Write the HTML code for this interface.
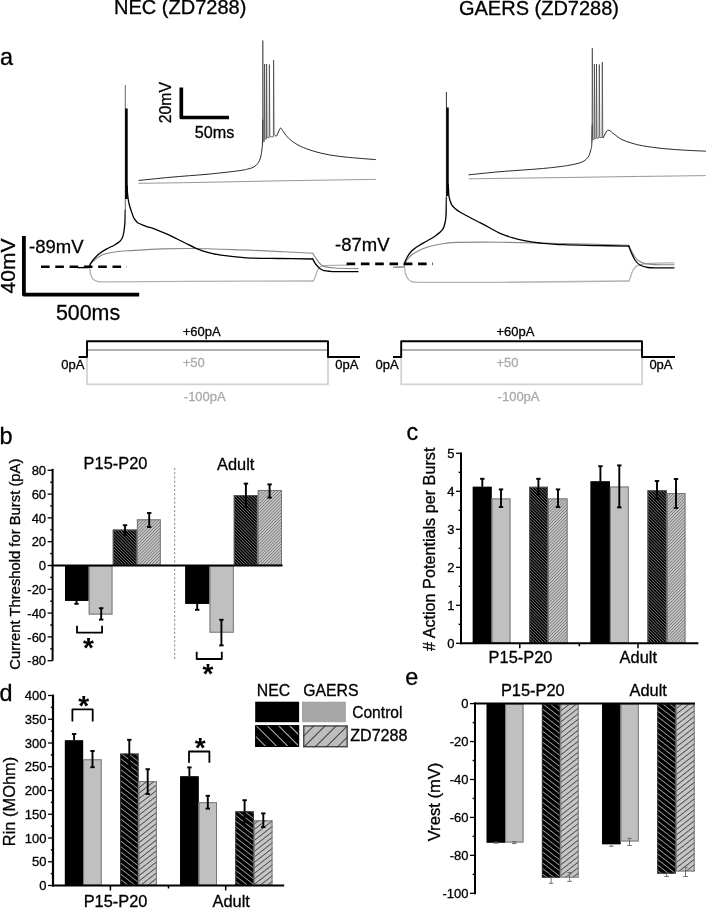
<!DOCTYPE html>
<html><head><meta charset="utf-8"><title>Figure</title>
<style>html,body{margin:0;padding:0;background:#fff}svg{display:block}text{font-family:"Liberation Sans",sans-serif}</style>
</head><body>
<svg width="706" height="909" viewBox="0 0 706 909">
<defs>
<pattern id="hbf" width="2.2" height="2.2" patternUnits="userSpaceOnUse" patternTransform="rotate(-45)"><rect width="2.2" height="2.2" fill="#000"/><rect width="0.55" height="2.2" fill="#a0a0a0"/></pattern>
<pattern id="hgf" width="2.2" height="2.2" patternUnits="userSpaceOnUse" patternTransform="rotate(45)"><rect width="2.2" height="2.2" fill="#cfcfcf"/><rect width="0.9" height="2.2" fill="#777"/></pattern>
<pattern id="hbm" width="4.33" height="4.33" patternUnits="userSpaceOnUse" patternTransform="rotate(-52)"><rect width="4.33" height="4.33" fill="#000"/><rect width="0.7" height="4.33" fill="#c4c4c4"/></pattern>
<pattern id="hgm" width="4.33" height="4.33" patternUnits="userSpaceOnUse" patternTransform="rotate(52)"><rect width="4.33" height="4.33" fill="#c6c6c6"/><rect width="0.9" height="4.33" fill="#4a4a4a"/></pattern>
<pattern id="hbc" width="4.33" height="4.33" patternUnits="userSpaceOnUse" patternTransform="rotate(-52)"><rect width="4.33" height="4.33" fill="#000"/><rect width="0.7" height="4.33" fill="#c4c4c4"/></pattern>
<pattern id="hgc" width="4.33" height="4.33" patternUnits="userSpaceOnUse" patternTransform="rotate(52)"><rect width="4.33" height="4.33" fill="#c6c6c6"/><rect width="0.9" height="4.33" fill="#4a4a4a"/></pattern>
<pattern id="hbl" x="-0.7" width="7.9" height="7.9" patternUnits="userSpaceOnUse" patternTransform="rotate(-45)"><rect width="7.9" height="7.9" fill="#000"/><rect width="0.8" height="7.9" fill="#e8e8e8"/></pattern>
<pattern id="hgl" x="0" width="7.9" height="7.9" patternUnits="userSpaceOnUse" patternTransform="rotate(45)"><rect width="7.9" height="7.9" fill="#bdbdbd"/><rect width="0.9" height="7.9" fill="#333"/></pattern>
</defs>
<rect width="706" height="909" fill="#fff"/>
<text x="180.2" y="14.3" font-size="20" text-anchor="middle" fill="#000" stroke="#000" stroke-width="0.3" >NEC (ZD7288)</text>
<text x="539" y="14.8" font-size="20" text-anchor="middle" fill="#000" stroke="#000" stroke-width="0.3" >GAERS (ZD7288)</text>
<text x="0" y="65.4" font-size="23.4" text-anchor="start" fill="#000" stroke="#000" stroke-width="0.3" >a</text>
<text x="-0.4" y="444" font-size="23.4" text-anchor="start" fill="#000" stroke="#000" stroke-width="0.3" >b</text>
<text x="406.6" y="439.7" font-size="23.4" text-anchor="start" fill="#000" stroke="#000" stroke-width="0.3" >c</text>
<text x="-0.45" y="701.3" font-size="23.4" text-anchor="start" fill="#000" stroke="#000" stroke-width="0.3" >d</text>
<text x="405.2" y="685.4" font-size="23.4" text-anchor="start" fill="#000" stroke="#000" stroke-width="0.3" >e</text>
<polyline points="181.3,87.5 181.3,117.5 229.0,117.5" fill="none" stroke="#000" stroke-width="3.7" stroke-linejoin="round" stroke-linejoin="miter"/>
<text transform="translate(170.6 102.6) rotate(-90)" font-size="15.8" text-anchor="middle" fill="#000" stroke="#000" stroke-width="0.3">20mV</text>
<text x="214.5" y="138" font-size="16.2" text-anchor="middle" fill="#000" stroke="#000" stroke-width="0.3" >50ms</text>
<path d="M77.6,267.5 C79.5,267.5 86.9,266.7 89.0,267.6 C91.1,268.5 89.7,271.2 90.3,273.0 C90.9,274.8 91.4,277.1 92.5,278.5 C93.6,279.9 93.8,280.6 96.7,281.2 C99.6,281.8 94.8,281.8 110.0,281.8 C125.2,281.8 154.1,281.4 188.0,281.3 C221.9,281.2 292.4,281.1 313.3,281.0" fill="none" stroke="#b2b2b2" stroke-width="1.3" stroke-linejoin="round" stroke-linecap="round"/>
<path d="M313.3,281.0 C313.5,280.6 313.8,280.4 314.6,278.5 C315.4,276.6 317.0,271.4 318.0,269.5 C319.0,267.6 319.6,267.4 320.5,266.8 C321.4,266.2 321.1,265.9 323.5,265.6 C325.9,265.4 331.1,265.4 335.0,265.3 C338.9,265.2 345.0,265.2 347.0,265.2" fill="none" stroke="#b2b2b2" stroke-width="1.3" stroke-linejoin="round" stroke-linecap="round"/>
<path d="M77.6,267.5 C79.5,267.5 86.8,268.0 89.0,267.3 C91.2,266.6 89.9,264.9 91.0,263.5 C92.1,262.1 93.8,260.5 95.8,259.0 C97.8,257.5 99.7,255.7 103.1,254.5 C106.5,253.3 110.8,252.4 116.0,251.7 C121.2,251.0 126.8,250.9 134.5,250.4 C142.2,249.9 152.8,249.2 162.0,248.9 C171.2,248.6 178.1,248.4 190.0,248.5 C201.9,248.6 218.7,249.1 233.7,249.6 C248.7,250.1 266.8,251.0 280.0,251.6 C293.2,252.2 307.3,253.0 312.8,253.3" fill="none" stroke="#888" stroke-width="1.1" stroke-linejoin="round" stroke-linecap="round"/>
<path d="M312.8,253.3 C313.2,254.0 314.4,255.9 315.5,257.5 C316.6,259.1 318.1,261.5 319.5,263.0 C320.9,264.5 321.4,265.6 324.0,266.4 C326.6,267.2 329.3,267.6 335.0,268.0 C340.7,268.4 354.2,268.5 358.0,268.6" fill="none" stroke="#888" stroke-width="1.1" stroke-linejoin="round" stroke-linecap="round"/>
<path d="M77.6,267.6 C79.4,267.6 86.4,267.8 88.5,267.3 C90.6,266.8 89.1,265.9 90.0,264.5 C90.9,263.1 92.3,260.8 93.9,259.0 C95.5,257.2 97.3,255.2 99.5,253.5 C101.7,251.8 104.3,250.3 106.8,248.9 C109.2,247.5 112.0,246.4 114.2,245.2 C116.4,244.0 118.4,242.8 119.7,241.6 C121.0,240.4 121.6,239.3 122.2,238.0 C122.8,236.7 123.2,235.8 123.6,233.5 C124.0,231.2 124.5,227.9 124.8,224.0 C125.1,220.1 125.2,212.3 125.3,210.0" fill="none" stroke="#000" stroke-width="1.3" stroke-linejoin="round" stroke-linecap="round"/>
<polyline points="125.3,222.0 125.3,85.0" fill="none" stroke="#666" stroke-width="1.0" stroke-linejoin="round" />
<polyline points="126.4,199.0 126.4,108.5" fill="none" stroke="#000" stroke-width="2.6" stroke-linejoin="round" />
<path d="M127.1,186.0 C127.2,187.3 127.4,191.7 127.6,194.0 C127.8,196.3 128.0,198.1 128.3,200.0 C128.6,201.9 129.1,203.9 129.5,205.5 C129.9,207.1 130.1,207.5 130.8,209.5 C131.5,211.5 132.6,215.3 133.5,217.3 C134.4,219.3 135.5,220.4 136.3,221.3 C137.1,222.2 136.9,222.3 138.1,223.0 C139.3,223.7 142.2,224.8 143.7,225.4 C145.2,226.0 145.8,226.3 147.3,226.8 C148.8,227.3 151.1,227.7 152.9,228.3 C154.8,228.9 155.7,229.4 158.4,230.5 C161.2,231.6 165.1,233.1 169.4,235.1 C173.7,237.1 179.9,240.4 184.2,242.5 C188.5,244.6 191.5,246.3 195.0,247.8 C198.5,249.3 200.7,250.4 205.0,251.6 C209.3,252.8 214.1,254.2 221.0,255.2 C227.9,256.2 236.7,257.2 246.5,257.8 C256.3,258.4 268.9,258.3 280.0,258.5 C291.1,258.7 307.3,258.9 312.8,259.0" fill="none" stroke="#000" stroke-width="1.3" stroke-linejoin="round" stroke-linecap="round"/>
<path d="M312.8,259.0 C313.2,259.7 314.1,261.8 315.0,263.2 C315.9,264.6 317.6,266.3 318.5,267.3 C319.4,268.3 319.7,268.4 320.6,269.0 C321.5,269.6 322.4,270.2 324.0,270.6 C325.6,271.0 327.3,271.1 330.0,271.3 C332.7,271.5 335.3,271.5 340.0,271.6 C344.7,271.7 355.0,271.7 358.0,271.7" fill="none" stroke="#000" stroke-width="1.3" stroke-linejoin="round" stroke-linecap="round"/>
<line x1="41" y1="266.8" x2="127" y2="266.8" stroke="#000" stroke-width="2.6" stroke-dasharray="8.6 5.7"/>
<text x="29" y="253" font-size="18.5" text-anchor="start" fill="#000" stroke="#000" stroke-width="0.3" >-89mV</text>
<polyline points="23.9,236.0 23.9,294.6 139.2,294.6" fill="none" stroke="#000" stroke-width="3.8" stroke-linejoin="round" stroke-linejoin="miter"/>
<text transform="translate(15 266) rotate(-90)" font-size="21" text-anchor="middle" fill="#000" stroke="#000" stroke-width="0.3">40mV</text>
<text x="88.0" y="320.3" font-size="21.4" text-anchor="middle" fill="#000" stroke="#000" stroke-width="0.3" >500ms</text>
<path d="M139.0,183.3 C149.2,183.2 179.8,182.8 200.0,182.4 C220.2,182.1 240.0,181.6 260.0,181.2 C280.0,180.8 300.8,180.5 320.0,180.2 C339.2,179.9 366.2,179.5 375.5,179.4" fill="none" stroke="#8a8a8a" stroke-width="0.9" stroke-linejoin="round" stroke-linecap="round"/>
<path d="M139.0,180.4 C144.2,179.9 158.3,178.4 170.0,177.3 C181.7,176.2 197.5,175.2 209.0,174.1 C220.5,173.0 232.3,171.6 239.0,170.7 C245.7,169.8 246.5,169.3 249.0,168.7 C251.5,168.1 252.6,167.7 254.0,166.9 C255.4,166.1 256.6,164.9 257.5,163.8 C258.4,162.7 258.9,161.8 259.5,160.4 C260.1,159.0 260.6,157.4 261.0,155.5 C261.4,153.6 261.7,151.6 262.0,149.0 C262.3,146.4 262.5,144.8 262.6,140.0 C262.7,135.2 262.8,123.3 262.8,120.0" fill="none" stroke="#111" stroke-width="0.9" stroke-linejoin="round" stroke-linecap="round"/>
<polyline points="262.6,145.0 262.8,40.5 263.3,141.5 264.4,141.5 264.6,64.0 265.1,139.0 266.4,139.0 266.6,64.0 267.1,137.5 269.1,137.5 269.4,64.5 269.9,136.8 273.4,136.8 273.6,60.0 274.1,134.0 275.2,135.6" fill="none" stroke="#3a3a3a" stroke-width="0.7" stroke-linejoin="round" stroke-linejoin="miter"/>
<path d="M275.2,135.6 C275.4,135.7 276.0,136.4 276.5,136.0 C277.0,135.6 277.5,134.1 278.0,133.0 C278.5,131.9 279.2,130.1 279.6,129.3 C280.1,128.5 280.3,128.0 280.7,128.0 C281.1,128.0 281.3,128.5 282.0,129.5 C282.7,130.5 283.7,132.3 285.0,134.0 C286.3,135.7 287.8,137.7 290.0,139.5 C292.2,141.3 294.7,143.2 298.0,145.0 C301.3,146.8 305.5,148.5 310.0,150.0 C314.5,151.5 319.2,152.8 325.0,154.0 C330.8,155.2 336.6,156.1 345.0,157.0 C353.4,157.9 370.4,159.2 375.5,159.6" fill="none" stroke="#111" stroke-width="0.9" stroke-linejoin="round" stroke-linecap="round"/>
<polyline points="87.0,357.0 87.0,384.3 328.0,384.3 328.0,357.0" fill="none" stroke="#d2d2d2" stroke-width="1.8" stroke-linejoin="round" stroke-linejoin="miter"/>
<polyline points="87.0,357.0 87.0,350.0 328.0,350.0 328.0,357.0" fill="none" stroke="#999" stroke-width="1.6" stroke-linejoin="round" stroke-linejoin="miter"/>
<polyline points="78.6,357.0 87.0,357.0 87.0,341.2 328.0,341.2 328.0,357.0 360.0,357.0" fill="none" stroke="#000" stroke-width="1.9" stroke-linejoin="round" stroke-linejoin="miter"/>
<text x="182.7" y="336.4" font-size="13" text-anchor="start" fill="#000" stroke="#000" stroke-width="0.3" >+60pA</text>
<text x="182.7" y="366.8" font-size="13" text-anchor="start" fill="#aaa" stroke="#aaa" stroke-width="0.3" >+50</text>
<text x="183.8" y="401" font-size="13" text-anchor="start" fill="#aaa" stroke="#aaa" stroke-width="0.3" >-100pA</text>
<text x="61.3" y="369" font-size="13" text-anchor="start" fill="#000" stroke="#000" stroke-width="0.3" >0pA</text>
<text x="335.3" y="369" font-size="13" text-anchor="start" fill="#000" stroke="#000" stroke-width="0.3" >0pA</text>
<path d="M393.7,267.2 C395.4,267.2 402.1,266.1 404.0,267.0 C405.9,267.9 404.6,271.0 405.2,272.8 C405.8,274.6 406.4,276.6 407.5,278.0 C408.6,279.4 408.7,280.8 411.6,281.5 C414.5,282.2 410.3,282.3 425.0,282.4 C439.7,282.5 466.0,282.5 500.0,282.3 C534.0,282.1 607.3,281.2 628.8,281.0" fill="none" stroke="#b2b2b2" stroke-width="1.3" stroke-linejoin="round" stroke-linecap="round"/>
<path d="M628.8,281.0 C629.1,280.3 629.9,278.7 630.5,277.0 C631.1,275.3 631.8,272.7 632.6,271.0 C633.4,269.3 634.4,268.0 635.5,267.0 C636.6,266.0 636.6,265.6 639.0,265.0 C641.4,264.4 644.2,263.8 650.0,263.4 C655.8,263.0 670.0,262.9 674.0,262.8" fill="none" stroke="#b2b2b2" stroke-width="1.3" stroke-linejoin="round" stroke-linecap="round"/>
<path d="M393.7,267.2 C395.4,267.2 401.8,267.4 403.6,267.0 C405.4,266.6 404.0,265.7 404.6,264.5 C405.2,263.3 405.8,261.6 407.0,260.0 C408.2,258.4 409.6,256.6 411.6,255.0 C413.6,253.4 416.4,251.8 419.0,250.5 C421.6,249.2 424.2,248.2 427.0,247.3 C429.8,246.4 433.1,245.6 436.0,245.0 C438.9,244.4 441.1,243.9 444.7,243.5 C448.3,243.1 448.3,242.6 457.5,242.4 C466.7,242.2 482.9,242.0 500.0,242.2 C517.1,242.4 538.5,243.0 560.0,243.5 C581.5,244.0 617.3,244.9 628.8,245.2" fill="none" stroke="#888" stroke-width="1.1" stroke-linejoin="round" stroke-linecap="round"/>
<path d="M628.8,245.2 C629.2,246.0 630.0,248.0 631.0,250.0 C632.0,252.0 633.7,255.2 635.0,257.0 C636.3,258.8 637.3,259.9 639.0,261.0 C640.7,262.1 642.3,263.0 645.0,263.6 C647.7,264.2 650.2,264.4 655.0,264.6 C659.8,264.8 670.8,264.8 674.0,264.8" fill="none" stroke="#888" stroke-width="1.1" stroke-linejoin="round" stroke-linecap="round"/>
<path d="M404.0,264.5 C404.5,263.3 405.7,259.8 407.0,257.5 C408.3,255.2 409.6,253.0 411.6,251.0 C413.6,249.0 416.4,247.2 419.0,245.5 C421.6,243.8 424.3,242.6 427.0,241.0 C429.7,239.4 432.4,238.1 435.0,236.2 C437.6,234.3 440.9,232.0 442.6,229.4 C444.4,226.8 444.9,223.6 445.5,220.4 C446.1,217.2 446.1,213.7 446.2,210.0 C446.3,206.3 446.4,200.0 446.4,198.0" fill="none" stroke="#000" stroke-width="1.3" stroke-linejoin="round" stroke-linecap="round"/>
<polyline points="446.4,215.0 446.4,92.0" fill="none" stroke="#333" stroke-width="1.0" stroke-linejoin="round" />
<polyline points="447.6,196.0 447.6,107.5" fill="none" stroke="#000" stroke-width="2.3" stroke-linejoin="round" />
<path d="M448.3,185.0 C448.4,186.8 448.6,193.0 448.9,195.6 C449.2,198.2 449.6,199.0 450.0,200.5 C450.4,202.0 450.8,203.2 451.6,204.6 C452.4,205.9 453.5,207.3 455.0,208.6 C456.5,209.9 458.1,211.0 460.6,212.5 C463.1,214.0 466.8,215.8 470.0,217.5 C473.2,219.2 476.7,220.9 480.0,222.7 C483.3,224.4 486.7,226.2 490.0,228.0 C493.3,229.8 496.3,231.7 500.0,233.3 C503.7,234.9 507.8,236.3 512.0,237.6 C516.2,238.9 520.8,240.0 525.5,240.9 C530.2,241.8 533.6,242.4 540.0,243.0 C546.4,243.6 553.7,244.3 563.7,244.7 C573.7,245.1 589.1,245.3 600.0,245.6 C610.9,245.8 624.0,246.1 628.8,246.2" fill="none" stroke="#000" stroke-width="1.3" stroke-linejoin="round" stroke-linecap="round"/>
<path d="M628.8,246.2 C629.2,247.2 630.0,249.7 631.0,252.0 C632.0,254.3 633.5,257.8 635.0,260.0 C636.5,262.2 637.9,263.8 640.0,265.0 C642.1,266.2 644.6,267.0 647.9,267.5 C651.2,268.0 655.6,267.8 660.0,267.8 C664.4,267.9 671.7,267.8 674.0,267.8" fill="none" stroke="#000" stroke-width="1.3" stroke-linejoin="round" stroke-linecap="round"/>
<line x1="346.6" y1="263.8" x2="433" y2="263.8" stroke="#000" stroke-width="2.7" stroke-dasharray="8.6 5.7"/>
<text x="335" y="251" font-size="18.5" text-anchor="start" fill="#000" stroke="#000" stroke-width="0.3" >-87mV</text>
<path d="M469.0,178.8 C479.2,178.7 508.2,178.3 530.0,178.0 C551.8,177.7 580.0,177.3 600.0,177.0 C620.0,176.7 632.3,176.5 650.0,176.3 C667.7,176.1 696.7,175.7 706.0,175.6" fill="none" stroke="#8a8a8a" stroke-width="0.9" stroke-linejoin="round" stroke-linecap="round"/>
<path d="M469.0,174.8 C474.2,174.3 488.3,172.7 500.0,171.7 C511.7,170.7 529.0,169.7 539.0,168.8 C549.0,168.0 555.0,167.2 560.0,166.6 C565.0,166.0 566.2,165.8 569.0,165.3 C571.8,164.8 574.7,164.2 577.0,163.6 C579.3,163.0 581.4,162.4 583.0,161.6 C584.6,160.8 585.5,160.0 586.5,159.0 C587.5,158.0 588.3,157.1 589.0,155.6 C589.7,154.1 590.3,151.9 590.8,150.0 C591.3,148.1 591.6,148.2 591.8,144.0 C592.0,139.8 592.1,128.2 592.2,125.0" fill="none" stroke="#111" stroke-width="0.9" stroke-linejoin="round" stroke-linecap="round"/>
<polyline points="592.0,141.5 592.3,48.2 592.8,139.5 594.1,139.5 594.4,64.0 594.9,138.5 596.2,138.5 596.5,64.0 597.0,138.0 599.0,138.0 599.3,64.5 599.8,137.5 602.0,137.5 602.3,62.0 602.8,137.5 603.4,137.5" fill="none" stroke="#3a3a3a" stroke-width="0.7" stroke-linejoin="round" stroke-linejoin="miter"/>
<path d="M603.4,137.5 C603.7,136.9 604.4,135.1 605.0,134.0 C605.6,132.9 606.3,131.6 606.8,131.0 C607.3,130.4 607.7,130.2 608.2,130.2 C608.7,130.2 609.0,130.2 610.0,130.8 C611.0,131.4 612.0,132.5 614.0,134.0 C616.0,135.5 619.0,138.1 622.0,139.6 C625.0,141.1 628.5,142.2 632.0,143.2 C635.5,144.2 637.5,144.9 642.7,145.8 C647.9,146.7 656.4,147.9 663.4,148.6 C670.4,149.3 677.9,149.8 685.0,150.2 C692.1,150.6 702.5,151.0 706.0,151.2" fill="none" stroke="#111" stroke-width="0.9" stroke-linejoin="round" stroke-linecap="round"/>
<polyline points="401.2,357.0 401.2,384.3 642.0,384.3 642.0,357.0" fill="none" stroke="#d2d2d2" stroke-width="1.8" stroke-linejoin="round" stroke-linejoin="miter"/>
<polyline points="401.2,357.0 401.2,350.0 642.0,350.0 642.0,357.0" fill="none" stroke="#999" stroke-width="1.6" stroke-linejoin="round" stroke-linejoin="miter"/>
<polyline points="393.0,357.0 401.2,357.0 401.2,341.2 642.0,341.2 642.0,357.0 675.0,357.0" fill="none" stroke="#000" stroke-width="1.9" stroke-linejoin="round" stroke-linejoin="miter"/>
<text x="496.5" y="335.8" font-size="13" text-anchor="start" fill="#000" stroke="#000" stroke-width="0.3" >+60pA</text>
<text x="496.5" y="366.8" font-size="13" text-anchor="start" fill="#aaa" stroke="#aaa" stroke-width="0.3" >+50</text>
<text x="497.6" y="400.8" font-size="13" text-anchor="start" fill="#aaa" stroke="#aaa" stroke-width="0.3" >-100pA</text>
<text x="375.6" y="369" font-size="13" text-anchor="start" fill="#000" stroke="#000" stroke-width="0.3" >0pA</text>
<text x="649.4" y="369" font-size="13" text-anchor="start" fill="#000" stroke="#000" stroke-width="0.3" >0pA</text>
<line x1="174.7" y1="468" x2="174.7" y2="659" stroke="#888" stroke-width="1" stroke-dasharray="2.2 2"/>
<rect x="65.0" y="565.5" width="23.7" height="35.3" fill="#000" stroke="none" stroke-width="1"/>
<rect x="65.5" y="566.0" width="22.7" height="34.3" fill="none" stroke="#000" stroke-width="1"/>
<rect x="88.7" y="565.5" width="23.8" height="49.1" fill="#c0c0c0" stroke="none" stroke-width="1"/>
<rect x="89.2" y="566.0" width="22.8" height="48.1" fill="none" stroke="#777" stroke-width="1"/>
<rect x="112.8" y="529.6" width="24.1" height="35.9" fill="url(#hbf)" stroke="none" stroke-width="1"/>
<rect x="113.3" y="530.1" width="23.1" height="34.9" fill="none" stroke="#555" stroke-width="1"/>
<rect x="136.9" y="519.3" width="23.9" height="46.2" fill="url(#hgf)" stroke="none" stroke-width="1"/>
<rect x="137.4" y="519.8" width="22.9" height="45.2" fill="none" stroke="#777" stroke-width="1"/>
<rect x="185.3" y="565.5" width="24.2" height="38.3" fill="#000" stroke="none" stroke-width="1"/>
<rect x="185.8" y="566.0" width="23.2" height="37.3" fill="none" stroke="#000" stroke-width="1"/>
<rect x="209.5" y="565.5" width="24.3" height="67.2" fill="#c0c0c0" stroke="none" stroke-width="1"/>
<rect x="210.0" y="566.0" width="23.3" height="66.2" fill="none" stroke="#777" stroke-width="1"/>
<rect x="233.8" y="495.0" width="23.9" height="70.5" fill="url(#hbf)" stroke="none" stroke-width="1"/>
<rect x="234.3" y="495.5" width="22.9" height="69.5" fill="none" stroke="#555" stroke-width="1"/>
<rect x="257.7" y="490.0" width="24.3" height="75.5" fill="url(#hgf)" stroke="none" stroke-width="1"/>
<rect x="258.2" y="490.5" width="23.3" height="74.5" fill="none" stroke="#777" stroke-width="1"/>
<line x1="52.6" y1="468.8" x2="52.6" y2="660.7" stroke="#000" stroke-width="2.0" />
<line x1="51.7" y1="565.5" x2="282.6" y2="565.5" stroke="#000" stroke-width="1.9" />
<line x1="47.6" y1="470.3" x2="52.6" y2="470.3" stroke="#000" stroke-width="1.3" />
<text x="46.1" y="475.0" font-size="13" text-anchor="end" fill="#000" stroke="#000" stroke-width="0.3" >80</text>
<line x1="47.6" y1="494.1" x2="52.6" y2="494.1" stroke="#000" stroke-width="1.3" />
<text x="46.1" y="498.8" font-size="13" text-anchor="end" fill="#000" stroke="#000" stroke-width="0.3" >60</text>
<line x1="47.6" y1="517.9" x2="52.6" y2="517.9" stroke="#000" stroke-width="1.3" />
<text x="46.1" y="522.6" font-size="13" text-anchor="end" fill="#000" stroke="#000" stroke-width="0.3" >40</text>
<line x1="47.6" y1="541.7" x2="52.6" y2="541.7" stroke="#000" stroke-width="1.3" />
<text x="46.1" y="546.4000000000001" font-size="13" text-anchor="end" fill="#000" stroke="#000" stroke-width="0.3" >20</text>
<line x1="47.6" y1="565.5" x2="52.6" y2="565.5" stroke="#000" stroke-width="1.3" />
<text x="46.1" y="570.2" font-size="13" text-anchor="end" fill="#000" stroke="#000" stroke-width="0.3" >0</text>
<line x1="47.6" y1="589.3" x2="52.6" y2="589.3" stroke="#000" stroke-width="1.3" />
<text x="46.1" y="594.0" font-size="13" text-anchor="end" fill="#000" stroke="#000" stroke-width="0.3" >-20</text>
<line x1="47.6" y1="613.1" x2="52.6" y2="613.1" stroke="#000" stroke-width="1.3" />
<text x="46.1" y="617.8000000000001" font-size="13" text-anchor="end" fill="#000" stroke="#000" stroke-width="0.3" >-40</text>
<line x1="47.6" y1="636.9" x2="52.6" y2="636.9" stroke="#000" stroke-width="1.3" />
<text x="46.1" y="641.6" font-size="13" text-anchor="end" fill="#000" stroke="#000" stroke-width="0.3" >-60</text>
<line x1="47.6" y1="660.7" x2="52.6" y2="660.7" stroke="#000" stroke-width="1.3" />
<text x="46.1" y="665.4000000000001" font-size="13" text-anchor="end" fill="#000" stroke="#000" stroke-width="0.3" >-80</text>
<line x1="50.2" y1="482.20000000000005" x2="52.6" y2="482.20000000000005" stroke="#000" stroke-width="1.4" />
<line x1="50.2" y1="506.0" x2="52.6" y2="506.0" stroke="#000" stroke-width="1.4" />
<line x1="50.2" y1="529.8" x2="52.6" y2="529.8" stroke="#000" stroke-width="1.4" />
<line x1="50.2" y1="553.6" x2="52.6" y2="553.6" stroke="#000" stroke-width="1.4" />
<line x1="50.2" y1="577.4" x2="52.6" y2="577.4" stroke="#000" stroke-width="1.4" />
<line x1="50.2" y1="601.2" x2="52.6" y2="601.2" stroke="#000" stroke-width="1.4" />
<line x1="50.2" y1="625.0" x2="52.6" y2="625.0" stroke="#000" stroke-width="1.4" />
<line x1="50.2" y1="648.8" x2="52.6" y2="648.8" stroke="#000" stroke-width="1.4" />
<line x1="76.5" y1="600.8" x2="76.5" y2="603.8" stroke="#000" stroke-width="1.9" />
<line x1="74.3" y1="603.8" x2="78.7" y2="603.8" stroke="#000" stroke-width="1.9" />
<line x1="101.2" y1="608.2" x2="101.2" y2="619.6" stroke="#000" stroke-width="1.9" />
<line x1="99.0" y1="608.2" x2="103.4" y2="608.2" stroke="#000" stroke-width="1.9" />
<line x1="99.0" y1="619.6" x2="103.4" y2="619.6" stroke="#000" stroke-width="1.9" />
<line x1="125" y1="525.2" x2="125" y2="534.6" stroke="#000" stroke-width="1.9" />
<line x1="122.8" y1="525.2" x2="127.2" y2="525.2" stroke="#000" stroke-width="1.9" />
<line x1="122.8" y1="534.6" x2="127.2" y2="534.6" stroke="#000" stroke-width="1.9" />
<line x1="149.2" y1="513" x2="149.2" y2="527" stroke="#000" stroke-width="1.9" />
<line x1="147.0" y1="513" x2="151.39999999999998" y2="513" stroke="#000" stroke-width="1.9" />
<line x1="147.0" y1="527" x2="151.39999999999998" y2="527" stroke="#000" stroke-width="1.9" />
<line x1="197.2" y1="603.8" x2="197.2" y2="609.8" stroke="#000" stroke-width="1.9" />
<line x1="195.0" y1="609.8" x2="199.39999999999998" y2="609.8" stroke="#000" stroke-width="1.9" />
<line x1="221.4" y1="619.8" x2="221.4" y2="645.4" stroke="#000" stroke-width="1.9" />
<line x1="219.20000000000002" y1="619.8" x2="223.6" y2="619.8" stroke="#000" stroke-width="1.9" />
<line x1="219.20000000000002" y1="645.4" x2="223.6" y2="645.4" stroke="#000" stroke-width="1.9" />
<line x1="245.9" y1="483.6" x2="245.9" y2="507.2" stroke="#000" stroke-width="1.9" />
<line x1="243.70000000000002" y1="483.6" x2="248.1" y2="483.6" stroke="#000" stroke-width="1.9" />
<line x1="243.70000000000002" y1="507.2" x2="248.1" y2="507.2" stroke="#000" stroke-width="1.9" />
<line x1="269.6" y1="484.4" x2="269.6" y2="497.6" stroke="#000" stroke-width="1.9" />
<line x1="267.40000000000003" y1="484.4" x2="271.8" y2="484.4" stroke="#000" stroke-width="1.9" />
<line x1="267.40000000000003" y1="497.6" x2="271.8" y2="497.6" stroke="#000" stroke-width="1.9" />
<polyline points="77.0,625.8 77.0,632.7 102.1,632.7 102.1,625.8" fill="none" stroke="#000" stroke-width="1.8" stroke-linejoin="round" stroke-linejoin="miter"/>
<text x="88.45" y="657.4000000000001" font-size="28" text-anchor="middle" fill="#000" font-weight="bold">*</text>
<polyline points="196.7,651.8 196.7,659.0 221.8,659.0 221.8,651.8" fill="none" stroke="#000" stroke-width="1.8" stroke-linejoin="round" stroke-linejoin="miter"/>
<text x="207.9" y="683.0" font-size="28" text-anchor="middle" fill="#000" font-weight="bold">*</text>
<text x="115.5" y="469.2" font-size="16.4" text-anchor="middle" fill="#000" stroke="#000" stroke-width="0.3" >P15-P20</text>
<text x="235.7" y="469.6" font-size="16.4" text-anchor="middle" fill="#000" stroke="#000" stroke-width="0.3" >Adult</text>
<text transform="translate(20.3 564.2) rotate(-90)" font-size="14.8" text-anchor="middle" fill="#000" stroke="#000" stroke-width="0.3">Current Threshold for Burst (pA)</text>
<rect x="472.8" y="486.8" width="18.8" height="156.5" fill="#000" stroke="none" stroke-width="1"/>
<rect x="473.3" y="487.3" width="17.8" height="155.5" fill="none" stroke="#000" stroke-width="1"/>
<rect x="491.6" y="498.4" width="18.9" height="144.9" fill="#c0c0c0" stroke="none" stroke-width="1"/>
<rect x="492.1" y="498.9" width="17.9" height="143.9" fill="none" stroke="#777" stroke-width="1"/>
<rect x="529.2" y="486.8" width="18.8" height="156.5" fill="url(#hbf)" stroke="none" stroke-width="1"/>
<rect x="529.7" y="487.3" width="17.8" height="155.5" fill="none" stroke="#555" stroke-width="1"/>
<rect x="548.0" y="498.4" width="19.6" height="144.9" fill="url(#hgf)" stroke="none" stroke-width="1"/>
<rect x="548.5" y="498.9" width="18.6" height="143.9" fill="none" stroke="#777" stroke-width="1"/>
<rect x="590.6" y="481.4" width="19.3" height="161.9" fill="#000" stroke="none" stroke-width="1"/>
<rect x="591.1" y="481.9" width="18.3" height="160.9" fill="none" stroke="#000" stroke-width="1"/>
<rect x="609.9" y="486.5" width="18.9" height="156.8" fill="#c0c0c0" stroke="none" stroke-width="1"/>
<rect x="610.4" y="487.0" width="17.9" height="155.8" fill="none" stroke="#777" stroke-width="1"/>
<rect x="647.5" y="490.3" width="19.3" height="153.0" fill="url(#hbf)" stroke="none" stroke-width="1"/>
<rect x="648.0" y="490.8" width="18.3" height="152.0" fill="none" stroke="#555" stroke-width="1"/>
<rect x="666.8" y="493.0" width="18.7" height="150.3" fill="url(#hgf)" stroke="none" stroke-width="1"/>
<rect x="667.3" y="493.5" width="17.7" height="149.3" fill="none" stroke="#777" stroke-width="1"/>
<line x1="461" y1="452.4" x2="461" y2="644.3" stroke="#000" stroke-width="2.0" />
<line x1="460.1" y1="643.3" x2="698.4" y2="643.3" stroke="#000" stroke-width="2" />
<line x1="456" y1="453.29999999999995" x2="461" y2="453.29999999999995" stroke="#000" stroke-width="1.3" />
<text x="454.5" y="457.99999999999994" font-size="13" text-anchor="end" fill="#000" stroke="#000" stroke-width="0.3" >5</text>
<line x1="456" y1="491.29999999999995" x2="461" y2="491.29999999999995" stroke="#000" stroke-width="1.3" />
<text x="454.5" y="495.99999999999994" font-size="13" text-anchor="end" fill="#000" stroke="#000" stroke-width="0.3" >4</text>
<line x1="456" y1="529.3" x2="461" y2="529.3" stroke="#000" stroke-width="1.3" />
<text x="454.5" y="534.0" font-size="13" text-anchor="end" fill="#000" stroke="#000" stroke-width="0.3" >3</text>
<line x1="456" y1="567.3" x2="461" y2="567.3" stroke="#000" stroke-width="1.3" />
<text x="454.5" y="572.0" font-size="13" text-anchor="end" fill="#000" stroke="#000" stroke-width="0.3" >2</text>
<line x1="456" y1="605.3" x2="461" y2="605.3" stroke="#000" stroke-width="1.3" />
<text x="454.5" y="610.0" font-size="13" text-anchor="end" fill="#000" stroke="#000" stroke-width="0.3" >1</text>
<line x1="456" y1="643.3" x2="461" y2="643.3" stroke="#000" stroke-width="1.3" />
<text x="454.5" y="648.0" font-size="13" text-anchor="end" fill="#000" stroke="#000" stroke-width="0.3" >0</text>
<line x1="458.6" y1="472.29999999999995" x2="461" y2="472.29999999999995" stroke="#000" stroke-width="1.4" />
<line x1="458.6" y1="510.29999999999995" x2="461" y2="510.29999999999995" stroke="#000" stroke-width="1.4" />
<line x1="458.6" y1="548.3" x2="461" y2="548.3" stroke="#000" stroke-width="1.4" />
<line x1="458.6" y1="586.3" x2="461" y2="586.3" stroke="#000" stroke-width="1.4" />
<line x1="458.6" y1="624.3" x2="461" y2="624.3" stroke="#000" stroke-width="1.4" />
<line x1="519.8" y1="643.3" x2="519.8" y2="648.3" stroke="#000" stroke-width="1.5" />
<line x1="638" y1="643.3" x2="638" y2="648.3" stroke="#000" stroke-width="1.5" />
<line x1="579.3" y1="643.3" x2="579.3" y2="646.3" stroke="#000" stroke-width="1.5" />
<line x1="482.3" y1="478.8" x2="482.3" y2="486.8" stroke="#000" stroke-width="1.9" />
<line x1="480.1" y1="478.8" x2="484.5" y2="478.8" stroke="#000" stroke-width="1.9" />
<line x1="501" y1="489.4" x2="501" y2="507" stroke="#000" stroke-width="1.9" />
<line x1="498.8" y1="489.4" x2="503.2" y2="489.4" stroke="#000" stroke-width="1.9" />
<line x1="498.8" y1="507" x2="503.2" y2="507" stroke="#000" stroke-width="1.9" />
<line x1="538.4" y1="478.8" x2="538.4" y2="494.3" stroke="#000" stroke-width="1.9" />
<line x1="536.1999999999999" y1="478.8" x2="540.6" y2="478.8" stroke="#000" stroke-width="1.9" />
<line x1="536.1999999999999" y1="494.3" x2="540.6" y2="494.3" stroke="#000" stroke-width="1.9" />
<line x1="558" y1="489.4" x2="558" y2="507" stroke="#000" stroke-width="1.9" />
<line x1="555.8" y1="489.4" x2="560.2" y2="489.4" stroke="#000" stroke-width="1.9" />
<line x1="555.8" y1="507" x2="560.2" y2="507" stroke="#000" stroke-width="1.9" />
<line x1="600.4" y1="466.2" x2="600.4" y2="481.4" stroke="#000" stroke-width="1.9" />
<line x1="598.1999999999999" y1="466.2" x2="602.6" y2="466.2" stroke="#000" stroke-width="1.9" />
<line x1="619.3" y1="465.4" x2="619.3" y2="507.4" stroke="#000" stroke-width="1.9" />
<line x1="617.0999999999999" y1="465.4" x2="621.5" y2="465.4" stroke="#000" stroke-width="1.9" />
<line x1="617.0999999999999" y1="507.4" x2="621.5" y2="507.4" stroke="#000" stroke-width="1.9" />
<line x1="657" y1="481" x2="657" y2="498.6" stroke="#000" stroke-width="1.9" />
<line x1="654.8" y1="481" x2="659.2" y2="481" stroke="#000" stroke-width="1.9" />
<line x1="654.8" y1="498.6" x2="659.2" y2="498.6" stroke="#000" stroke-width="1.9" />
<line x1="676" y1="479" x2="676" y2="508" stroke="#000" stroke-width="1.9" />
<line x1="673.8" y1="479" x2="678.2" y2="479" stroke="#000" stroke-width="1.9" />
<line x1="673.8" y1="508" x2="678.2" y2="508" stroke="#000" stroke-width="1.9" />
<text x="520.5" y="663" font-size="16.4" text-anchor="middle" fill="#000" stroke="#000" stroke-width="0.3" >P15-P20</text>
<text x="638.3" y="662.6" font-size="16.4" text-anchor="middle" fill="#000" stroke="#000" stroke-width="0.3" >Adult</text>
<text transform="translate(434.6 549.3) rotate(-90)" font-size="16.2" text-anchor="middle" fill="#000" stroke="#000" stroke-width="0.3"># Action Potentials per Burst</text>
<rect x="64.9" y="740.4" width="18.2" height="145.1" fill="#000" stroke="none" stroke-width="1"/>
<rect x="65.4" y="740.9" width="17.2" height="144.1" fill="none" stroke="#000" stroke-width="1"/>
<rect x="83.1" y="759.3" width="18.6" height="126.2" fill="#c0c0c0" stroke="none" stroke-width="1"/>
<rect x="83.6" y="759.8" width="17.6" height="125.2" fill="none" stroke="#777" stroke-width="1"/>
<rect x="120.0" y="753.6" width="18.5" height="131.9" fill="url(#hbc)" stroke="none" stroke-width="1"/>
<rect x="120.5" y="754.1" width="17.5" height="130.9" fill="none" stroke="#333" stroke-width="1"/>
<rect x="138.5" y="781.1" width="18.4" height="104.4" fill="url(#hgc)" stroke="none" stroke-width="1"/>
<rect x="139.0" y="781.6" width="17.4" height="103.4" fill="none" stroke="#777" stroke-width="1"/>
<rect x="180.2" y="776.4" width="18.4" height="109.1" fill="#000" stroke="none" stroke-width="1"/>
<rect x="180.7" y="776.9" width="17.4" height="108.1" fill="none" stroke="#000" stroke-width="1"/>
<rect x="198.6" y="802.2" width="18.4" height="83.3" fill="#c0c0c0" stroke="none" stroke-width="1"/>
<rect x="199.1" y="802.7" width="17.4" height="82.3" fill="none" stroke="#777" stroke-width="1"/>
<rect x="235.4" y="811.4" width="18.4" height="74.1" fill="url(#hbc)" stroke="none" stroke-width="1"/>
<rect x="235.9" y="811.9" width="17.4" height="73.1" fill="none" stroke="#333" stroke-width="1"/>
<rect x="253.8" y="820.3" width="18.7" height="65.2" fill="url(#hgc)" stroke="none" stroke-width="1"/>
<rect x="254.3" y="820.8" width="17.7" height="64.2" fill="none" stroke="#777" stroke-width="1"/>
<line x1="53.0" y1="694.6" x2="53.0" y2="886.5" stroke="#000" stroke-width="2.2" />
<line x1="52.1" y1="885.5" x2="284.2" y2="885.5" stroke="#000" stroke-width="2" />
<line x1="48.0" y1="695.5" x2="53.0" y2="695.5" stroke="#000" stroke-width="1.3" />
<text x="46.5" y="700.2" font-size="13" text-anchor="end" fill="#000" stroke="#000" stroke-width="0.3" >400</text>
<line x1="48.0" y1="719.25" x2="53.0" y2="719.25" stroke="#000" stroke-width="1.3" />
<text x="46.5" y="723.95" font-size="13" text-anchor="end" fill="#000" stroke="#000" stroke-width="0.3" >350</text>
<line x1="48.0" y1="743.0" x2="53.0" y2="743.0" stroke="#000" stroke-width="1.3" />
<text x="46.5" y="747.7" font-size="13" text-anchor="end" fill="#000" stroke="#000" stroke-width="0.3" >300</text>
<line x1="48.0" y1="766.75" x2="53.0" y2="766.75" stroke="#000" stroke-width="1.3" />
<text x="46.5" y="771.45" font-size="13" text-anchor="end" fill="#000" stroke="#000" stroke-width="0.3" >250</text>
<line x1="48.0" y1="790.5" x2="53.0" y2="790.5" stroke="#000" stroke-width="1.3" />
<text x="46.5" y="795.2" font-size="13" text-anchor="end" fill="#000" stroke="#000" stroke-width="0.3" >200</text>
<line x1="48.0" y1="814.25" x2="53.0" y2="814.25" stroke="#000" stroke-width="1.3" />
<text x="46.5" y="818.95" font-size="13" text-anchor="end" fill="#000" stroke="#000" stroke-width="0.3" >150</text>
<line x1="48.0" y1="838.0" x2="53.0" y2="838.0" stroke="#000" stroke-width="1.3" />
<text x="46.5" y="842.7" font-size="13" text-anchor="end" fill="#000" stroke="#000" stroke-width="0.3" >100</text>
<line x1="48.0" y1="861.75" x2="53.0" y2="861.75" stroke="#000" stroke-width="1.3" />
<text x="46.5" y="866.45" font-size="13" text-anchor="end" fill="#000" stroke="#000" stroke-width="0.3" >50</text>
<line x1="48.0" y1="885.5" x2="53.0" y2="885.5" stroke="#000" stroke-width="1.3" />
<text x="46.5" y="890.2" font-size="13" text-anchor="end" fill="#000" stroke="#000" stroke-width="0.3" >0</text>
<line x1="50.8" y1="707.375" x2="53.0" y2="707.375" stroke="#000" stroke-width="1.4" />
<line x1="50.8" y1="731.125" x2="53.0" y2="731.125" stroke="#000" stroke-width="1.4" />
<line x1="50.8" y1="754.875" x2="53.0" y2="754.875" stroke="#000" stroke-width="1.4" />
<line x1="50.8" y1="778.625" x2="53.0" y2="778.625" stroke="#000" stroke-width="1.4" />
<line x1="50.8" y1="802.375" x2="53.0" y2="802.375" stroke="#000" stroke-width="1.4" />
<line x1="50.8" y1="826.125" x2="53.0" y2="826.125" stroke="#000" stroke-width="1.4" />
<line x1="50.8" y1="849.875" x2="53.0" y2="849.875" stroke="#000" stroke-width="1.4" />
<line x1="50.8" y1="873.625" x2="53.0" y2="873.625" stroke="#000" stroke-width="1.4" />
<line x1="110.4" y1="885.5" x2="110.4" y2="890.5" stroke="#000" stroke-width="1.5" />
<line x1="225.7" y1="885.5" x2="225.7" y2="890.5" stroke="#000" stroke-width="1.5" />
<line x1="168.5" y1="885.5" x2="168.5" y2="888.5" stroke="#000" stroke-width="1.5" />
<line x1="74.1" y1="734" x2="74.1" y2="740.4" stroke="#000" stroke-width="1.9" />
<line x1="71.89999999999999" y1="734" x2="76.3" y2="734" stroke="#000" stroke-width="1.9" />
<line x1="92.5" y1="751" x2="92.5" y2="767.2" stroke="#000" stroke-width="1.9" />
<line x1="90.3" y1="751" x2="94.7" y2="751" stroke="#000" stroke-width="1.9" />
<line x1="90.3" y1="767.2" x2="94.7" y2="767.2" stroke="#000" stroke-width="1.9" />
<line x1="129.3" y1="739.8" x2="129.3" y2="766.6" stroke="#000" stroke-width="1.9" />
<line x1="127.10000000000001" y1="739.8" x2="131.5" y2="739.8" stroke="#000" stroke-width="1.9" />
<line x1="127.10000000000001" y1="766.6" x2="131.5" y2="766.6" stroke="#000" stroke-width="1.9" />
<line x1="147.7" y1="769.2" x2="147.7" y2="794" stroke="#000" stroke-width="1.9" />
<line x1="145.5" y1="769.2" x2="149.89999999999998" y2="769.2" stroke="#000" stroke-width="1.9" />
<line x1="145.5" y1="794" x2="149.89999999999998" y2="794" stroke="#000" stroke-width="1.9" />
<line x1="189.4" y1="767.4" x2="189.4" y2="776.4" stroke="#000" stroke-width="1.9" />
<line x1="187.20000000000002" y1="767.4" x2="191.6" y2="767.4" stroke="#000" stroke-width="1.9" />
<line x1="207.8" y1="795.8" x2="207.8" y2="808.6" stroke="#000" stroke-width="1.9" />
<line x1="205.60000000000002" y1="795.8" x2="210.0" y2="795.8" stroke="#000" stroke-width="1.9" />
<line x1="205.60000000000002" y1="808.6" x2="210.0" y2="808.6" stroke="#000" stroke-width="1.9" />
<line x1="244.6" y1="800.2" x2="244.6" y2="822.3" stroke="#000" stroke-width="1.9" />
<line x1="242.4" y1="800.2" x2="246.79999999999998" y2="800.2" stroke="#000" stroke-width="1.9" />
<line x1="242.4" y1="822.3" x2="246.79999999999998" y2="822.3" stroke="#000" stroke-width="1.9" />
<line x1="263.3" y1="813.4" x2="263.3" y2="827" stroke="#000" stroke-width="1.9" />
<line x1="261.1" y1="813.4" x2="265.5" y2="813.4" stroke="#000" stroke-width="1.9" />
<line x1="261.1" y1="827" x2="265.5" y2="827" stroke="#000" stroke-width="1.9" />
<polyline points="72.4,721.4 72.4,709.4 92.7,709.4 92.7,721.4" fill="none" stroke="#000" stroke-width="1.8" stroke-linejoin="round" stroke-linejoin="miter"/>
<text x="83.6" y="714.7" font-size="28" text-anchor="middle" fill="#000" font-weight="bold">*</text>
<polyline points="189.0,762.8 189.0,751.5 209.4,751.5 209.4,762.8" fill="none" stroke="#000" stroke-width="1.8" stroke-linejoin="round" stroke-linejoin="miter"/>
<text x="200.2" y="756.7" font-size="28" text-anchor="middle" fill="#000" font-weight="bold">*</text>
<text x="115.6" y="907.3" font-size="16.4" text-anchor="middle" fill="#000" stroke="#000" stroke-width="0.3" >P15-P20</text>
<text x="231.2" y="907.3" font-size="16.4" text-anchor="middle" fill="#000" stroke="#000" stroke-width="0.3" >Adult</text>
<text transform="translate(14.8 801.5) rotate(-90)" font-size="16.4" text-anchor="middle" fill="#000" stroke="#000" stroke-width="0.3">Rin (MOhm)</text>
<text x="273.5" y="695.6" font-size="15.8" text-anchor="middle" fill="#000" stroke="#000" stroke-width="0.3" >NEC</text>
<text x="330.8" y="695.6" font-size="15.8" text-anchor="middle" fill="#000" stroke="#000" stroke-width="0.3" >GAERS</text>
<rect x="255.2" y="701.7" width="43.9" height="20.5" fill="#000" stroke="none" stroke-width="1"/>
<rect x="302.0" y="701.7" width="43.9" height="20.5" fill="#a6a6a6" stroke="none" stroke-width="1"/>
<rect x="255.2" y="725.2" width="43.9" height="21.8" fill="url(#hbl)" stroke="none" stroke-width="1"/>
<rect x="255.7" y="725.7" width="42.9" height="20.8" fill="none" stroke="#000" stroke-width="1"/>
<rect x="303.2" y="725.4" width="44.5" height="21.9" fill="url(#hgl)" stroke="none" stroke-width="1"/>
<rect x="303.8" y="726" width="43.3" height="20.7" fill="none" stroke="#333" stroke-width="1.2"/>
<text x="352.2" y="718" font-size="15.6" text-anchor="start" fill="#000" stroke="#000" stroke-width="0.3" >Control</text>
<text x="350.2" y="740.6" font-size="16.1" text-anchor="start" fill="#000" stroke="#000" stroke-width="0.3" >ZD7288</text>
<rect x="486.7" y="703.6" width="18.4" height="139.0" fill="#000" stroke="none" stroke-width="1"/>
<rect x="487.2" y="704.1" width="17.4" height="138.0" fill="none" stroke="#000" stroke-width="1"/>
<rect x="505.1" y="703.6" width="18.4" height="139.0" fill="#c0c0c0" stroke="none" stroke-width="1"/>
<rect x="505.6" y="704.1" width="17.4" height="138.0" fill="none" stroke="#777" stroke-width="1"/>
<rect x="541.9" y="703.6" width="18.4" height="174.0" fill="url(#hbm)" stroke="none" stroke-width="1"/>
<rect x="542.4" y="704.1" width="17.4" height="173.0" fill="none" stroke="#333" stroke-width="1"/>
<rect x="560.3" y="703.6" width="18.4" height="174.0" fill="url(#hgm)" stroke="none" stroke-width="1"/>
<rect x="560.8" y="704.1" width="17.4" height="173.0" fill="none" stroke="#777" stroke-width="1"/>
<rect x="602.1" y="703.6" width="18.4" height="140.6" fill="#000" stroke="none" stroke-width="1"/>
<rect x="602.6" y="704.1" width="17.4" height="139.6" fill="none" stroke="#000" stroke-width="1"/>
<rect x="620.5" y="703.6" width="18.3" height="137.9" fill="#c0c0c0" stroke="none" stroke-width="1"/>
<rect x="621.0" y="704.1" width="17.3" height="136.9" fill="none" stroke="#777" stroke-width="1"/>
<rect x="657.3" y="703.6" width="18.5" height="170.0" fill="url(#hbm)" stroke="none" stroke-width="1"/>
<rect x="657.8" y="704.1" width="17.5" height="169.0" fill="none" stroke="#333" stroke-width="1"/>
<rect x="675.8" y="703.6" width="18.9" height="167.9" fill="url(#hgm)" stroke="none" stroke-width="1"/>
<rect x="676.3" y="704.1" width="17.9" height="166.9" fill="none" stroke="#777" stroke-width="1"/>
<line x1="475" y1="702.6" x2="475" y2="894.2" stroke="#000" stroke-width="2.0" />
<line x1="474.1" y1="703.6" x2="695" y2="703.6" stroke="#000" stroke-width="2" />
<line x1="470" y1="703.6" x2="475" y2="703.6" stroke="#000" stroke-width="1.3" />
<text x="468.5" y="708.3000000000001" font-size="13" text-anchor="end" fill="#000" stroke="#000" stroke-width="0.3" >0</text>
<line x1="470" y1="741.54" x2="475" y2="741.54" stroke="#000" stroke-width="1.3" />
<text x="468.5" y="746.24" font-size="13" text-anchor="end" fill="#000" stroke="#000" stroke-width="0.3" >-20</text>
<line x1="470" y1="779.48" x2="475" y2="779.48" stroke="#000" stroke-width="1.3" />
<text x="468.5" y="784.1800000000001" font-size="13" text-anchor="end" fill="#000" stroke="#000" stroke-width="0.3" >-40</text>
<line x1="470" y1="817.4200000000001" x2="475" y2="817.4200000000001" stroke="#000" stroke-width="1.3" />
<text x="468.5" y="822.1200000000001" font-size="13" text-anchor="end" fill="#000" stroke="#000" stroke-width="0.3" >-60</text>
<line x1="470" y1="855.36" x2="475" y2="855.36" stroke="#000" stroke-width="1.3" />
<text x="468.5" y="860.0600000000001" font-size="13" text-anchor="end" fill="#000" stroke="#000" stroke-width="0.3" >-80</text>
<line x1="470" y1="893.3" x2="475" y2="893.3" stroke="#000" stroke-width="1.3" />
<text x="468.5" y="898.0" font-size="13" text-anchor="end" fill="#000" stroke="#000" stroke-width="0.3" >-100</text>
<line x1="472.6" y1="722.5699999999999" x2="475" y2="722.5699999999999" stroke="#000" stroke-width="1.4" />
<line x1="472.6" y1="760.51" x2="475" y2="760.51" stroke="#000" stroke-width="1.4" />
<line x1="472.6" y1="798.45" x2="475" y2="798.45" stroke="#000" stroke-width="1.4" />
<line x1="472.6" y1="836.3900000000001" x2="475" y2="836.3900000000001" stroke="#000" stroke-width="1.4" />
<line x1="472.6" y1="874.3299999999999" x2="475" y2="874.3299999999999" stroke="#000" stroke-width="1.4" />
<line x1="496" y1="842.2" x2="496" y2="843.2" stroke="#666" stroke-width="0.9" />
<line x1="493.7" y1="842.2" x2="498.3" y2="842.2" stroke="#666" stroke-width="0.9" />
<line x1="493.7" y1="843.2" x2="498.3" y2="843.2" stroke="#666" stroke-width="0.9" />
<line x1="514.3" y1="841.6" x2="514.3" y2="843.6" stroke="#666" stroke-width="0.9" />
<line x1="511.99999999999994" y1="841.6" x2="516.5999999999999" y2="841.6" stroke="#666" stroke-width="0.9" />
<line x1="511.99999999999994" y1="843.6" x2="516.5999999999999" y2="843.6" stroke="#666" stroke-width="0.9" />
<line x1="551.1" y1="877.6" x2="551.1" y2="883.3" stroke="#666" stroke-width="0.9" />
<line x1="548.8000000000001" y1="883.3" x2="553.4" y2="883.3" stroke="#666" stroke-width="0.9" />
<line x1="569.6" y1="872.5" x2="569.6" y2="881.4" stroke="#666" stroke-width="0.9" />
<line x1="567.3000000000001" y1="872.5" x2="571.9" y2="872.5" stroke="#666" stroke-width="0.9" />
<line x1="567.3000000000001" y1="881.4" x2="571.9" y2="881.4" stroke="#666" stroke-width="0.9" />
<line x1="611.3" y1="844.2" x2="611.3" y2="846.3" stroke="#666" stroke-width="0.9" />
<line x1="609.0" y1="846.3" x2="613.5999999999999" y2="846.3" stroke="#666" stroke-width="0.9" />
<line x1="629.5" y1="838.4" x2="629.5" y2="845.5" stroke="#666" stroke-width="0.9" />
<line x1="627.2" y1="838.4" x2="631.8" y2="838.4" stroke="#666" stroke-width="0.9" />
<line x1="627.2" y1="845.5" x2="631.8" y2="845.5" stroke="#666" stroke-width="0.9" />
<line x1="666.6" y1="873.6" x2="666.6" y2="876.5" stroke="#666" stroke-width="0.9" />
<line x1="664.3000000000001" y1="876.5" x2="668.9" y2="876.5" stroke="#666" stroke-width="0.9" />
<line x1="685.5" y1="867.3" x2="685.5" y2="876.5" stroke="#666" stroke-width="0.9" />
<line x1="683.2" y1="867.3" x2="687.8" y2="867.3" stroke="#666" stroke-width="0.9" />
<line x1="683.2" y1="876.5" x2="687.8" y2="876.5" stroke="#666" stroke-width="0.9" />
<text x="532.8" y="696.4" font-size="16.4" text-anchor="middle" fill="#000" stroke="#000" stroke-width="0.3" >P15-P20</text>
<text x="648.2" y="696.4" font-size="16.4" text-anchor="middle" fill="#000" stroke="#000" stroke-width="0.3" >Adult</text>
<text transform="translate(440.4 802) rotate(-90)" font-size="16.6" text-anchor="middle" fill="#000" stroke="#000" stroke-width="0.3">Vrest (mV)</text>
</svg>
</body></html>
